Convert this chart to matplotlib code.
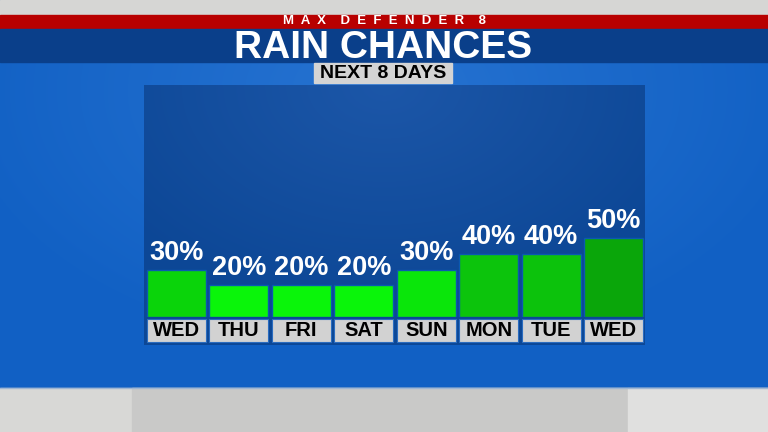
#!/usr/bin/env python3
"""Max Defender 8 rain chances, next 8 days."""

import matplotlib

matplotlib.use("Agg")
import matplotlib.pyplot as plt
import numpy as np
from matplotlib.patches import Rectangle

plt.rcParams["font.family"] = ["Liberation Sans", "DejaVu Sans"]

DAYS = ["WED", "THU", "FRI", "SAT", "SUN", "MON", "TUE", "WED"]
CHANCES = [30, 20, 20, 20, 30, 40, 40, 50]
BAR_COLORS = ["#0ad40a", "#0af50a", "#0af50a", "#0af50a",
              "#0ae60a", "#0cc40c", "#0cc20c", "#0aa60a"]

W, H = 768, 432


def radial(w, h, cx, cy, rx, ry, inner, outer):
    yy, xx = np.mgrid[0:h, 0:w]
    d = np.sqrt(((xx - cx) / rx) ** 2 + ((yy - cy) / ry) ** 2)
    t = np.clip(d, 0, 1)[..., None]
    return np.array(inner) * (1 - t) + np.array(outer) * t


def main() -> None:
    fig = plt.figure(figsize=(W / 100, H / 100), dpi=100)
    bg = fig.add_axes([0, 0, 1, 1])
    bg.set_xlim(0, W)
    bg.set_ylim(H, 0)
    bg.axis("off")

    # blue backdrop with soft glow near the top
    img = radial(W, H, 380, 90, 420, 260,
                 (0.15, 0.45, 0.82), (0.07, 0.38, 0.77))
    bg.imshow(img, extent=(0, W, H, 0), aspect="auto", zorder=0)

    # top strip, red band, title band
    bg.add_patch(Rectangle((0, 0), W, 15, color="#d6d6d4", zorder=1))
    bg.add_patch(Rectangle((0, 15), W, 14, color="#b80000", zorder=1))
    bg.add_patch(Rectangle((0, 29), W, 33, color="#0a3f8a", zorder=1))

    # bottom gray area
    bg.add_patch(Rectangle((0, 388), W, 44, color="#d8d8d6", zorder=1))
    bg.add_patch(Rectangle((132, 388), 496, 44, color="#c9c9c8", zorder=1))
    bg.add_patch(Rectangle((628, 388), 140, 44, color="#e0e0df", zorder=1))
    bg.plot([0, W], [388, 388], color="#9fb6d4", lw=1, zorder=2)

    # chart panel
    panel = radial(501, 260, 240, 0, 320, 220,
                   (0.11, 0.34, 0.66), (0.05, 0.28, 0.59))
    bg.imshow(panel, extent=(144, 645, 345, 85), aspect="auto", zorder=2)

    bg.text(384, 21, "M  A  X    D  E  F  E  N  D  E  R    8",
            color="white", fontsize=9.5, fontweight="bold",
            ha="center", va="center", zorder=3)
    bg.text(383, 47.5, "RAIN CHANCES", color="white", fontsize=28,
            fontweight="bold", ha="center", va="center", zorder=3)
    bg.add_patch(Rectangle((314, 63), 138, 20, color="#d4d4d4", zorder=3))
    bg.text(383, 73.5, "NEXT 8 DAYS", color="black", fontsize=14,
            fontweight="bold", ha="center", va="center", zorder=4)

    # bars
    ax = fig.add_axes([145 / W, 1 - 317 / H, 500 / W, (317 - 86) / H])
    ax.patch.set_visible(False)
    ax.set_xlim(-0.5, len(DAYS) - 0.5)
    ax.set_ylim(0, 146.2)
    ax.axis("off")
    x = np.arange(len(DAYS))
    ax.bar(x, CHANCES, width=0.95, color=BAR_COLORS,
           edgecolor="#0b58b0", linewidth=1.0)
    trans = ax.get_xaxis_transform()
    box_top = -2 / 231
    box_h = 23 / 231
    for xi, day, val in zip(x, DAYS, CHANCES):
        ax.text(xi, val + 2.5, f"{val}%", color="white", fontsize=19.5,
                fontweight="bold", ha="center", va="bottom")
        ax.add_patch(Rectangle((xi - 0.475, box_top - box_h), 0.95, box_h,
                               transform=trans, facecolor="#d2d2d2",
                               edgecolor="#2a6cc0", linewidth=0.8,
                               clip_on=False))
        ax.text(xi, box_top - box_h / 2, day, transform=trans,
                color="black", fontsize=14.5, fontweight="bold",
                ha="center", va="center")

    fig.savefig("out.png", dpi=100)


if __name__ == "__main__":
    main()
